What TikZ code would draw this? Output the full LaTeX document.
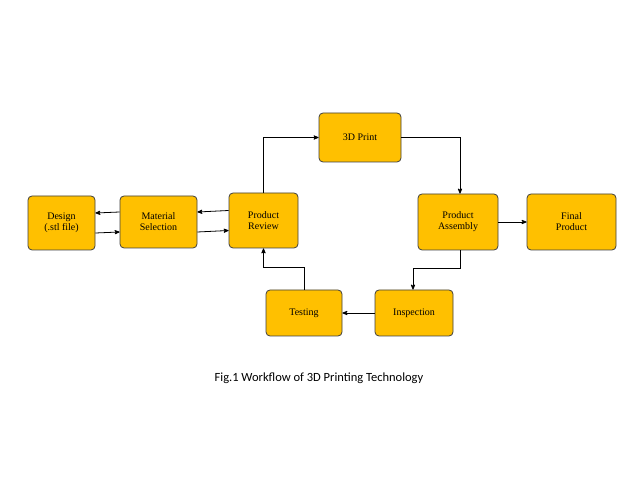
\documentclass[tikz,border=0pt]{standalone}
\usepackage{fontspec}
\setmainfont{Liberation Serif}
\newfontfamily\capfont{Carlito}
\usetikzlibrary{arrows}
\definecolor{boxfill}{HTML}{FFC000}
\definecolor{boxline}{HTML}{3F3F3F}
\begin{document}
\begin{tikzpicture}[x=1pt, y=-1pt]
    \tikzstyle{flow step} = [rectangle, rounded corners=4pt, draw=boxline, fill=boxfill, thick, align=center, font=\fontsize{10}{11}\selectfont, inner sep=2pt]
    \tikzstyle{flow arrow} = [draw=black, thick, ->, >=stealth']
\useasboundingbox (0,0) rectangle (638,478);
\node[flow step, minimum width=67pt, minimum height=54pt] (design) at (61.5, 223) {Design\\(.stl file)};
\node[flow step, minimum width=77pt, minimum height=52pt] (material) at (158.5, 222) {Material\\Selection};
\node[flow step, minimum width=69pt, minimum height=55pt] (review) at (263.5, 220.5) {Product\\Review};
\node[flow step, minimum width=82pt, minimum height=49pt] (print) at (360, 137.5) {3D Print};
\node[flow step, minimum width=80pt, minimum height=56pt] (assembly) at (458, 222) {Product\\Assembly};
\node[flow step, minimum width=89pt, minimum height=56pt] (final) at (571.5, 222) {Final\\Product};
\node[flow step, minimum width=78pt, minimum height=46pt] (inspection) at (414, 313) {Inspection};
\node[flow step, minimum width=76pt, minimum height=46pt] (testing) at (304, 313) {Testing};
\node[font=\capfont\fontsize{12.5}{14}\selectfont] (caption) at (319, 378) {Fig.1 Workflow of 3D Printing Technology};
\draw[flow arrow] ([yshift=-10pt]design.east) to ([yshift=-10pt]material.west);
\draw[flow arrow] ([yshift=10pt]material.west) to ([yshift=10pt]design.east);
\draw[flow arrow] ([yshift=-10pt]material.east) to ([yshift=-10pt]review.west);
\draw[flow arrow] ([yshift=10pt]review.west) to ([yshift=10pt]material.east);
\draw[flow arrow] (review.north) |- (print.west);
\draw[flow arrow] (print.east) -| ([xshift=2pt]assembly.north);
\draw[flow arrow] (assembly.east) to (final.west);
\draw[flow arrow] ([xshift=2pt]assembly.south) -- ++(0,18) -| (inspection.north west -| 413,0);
\draw[flow arrow] (inspection.west) to (testing.east);
\draw[flow arrow] (testing.north) -- ++(0,-22) -| (review.south);
\end{tikzpicture}
\end{document}
